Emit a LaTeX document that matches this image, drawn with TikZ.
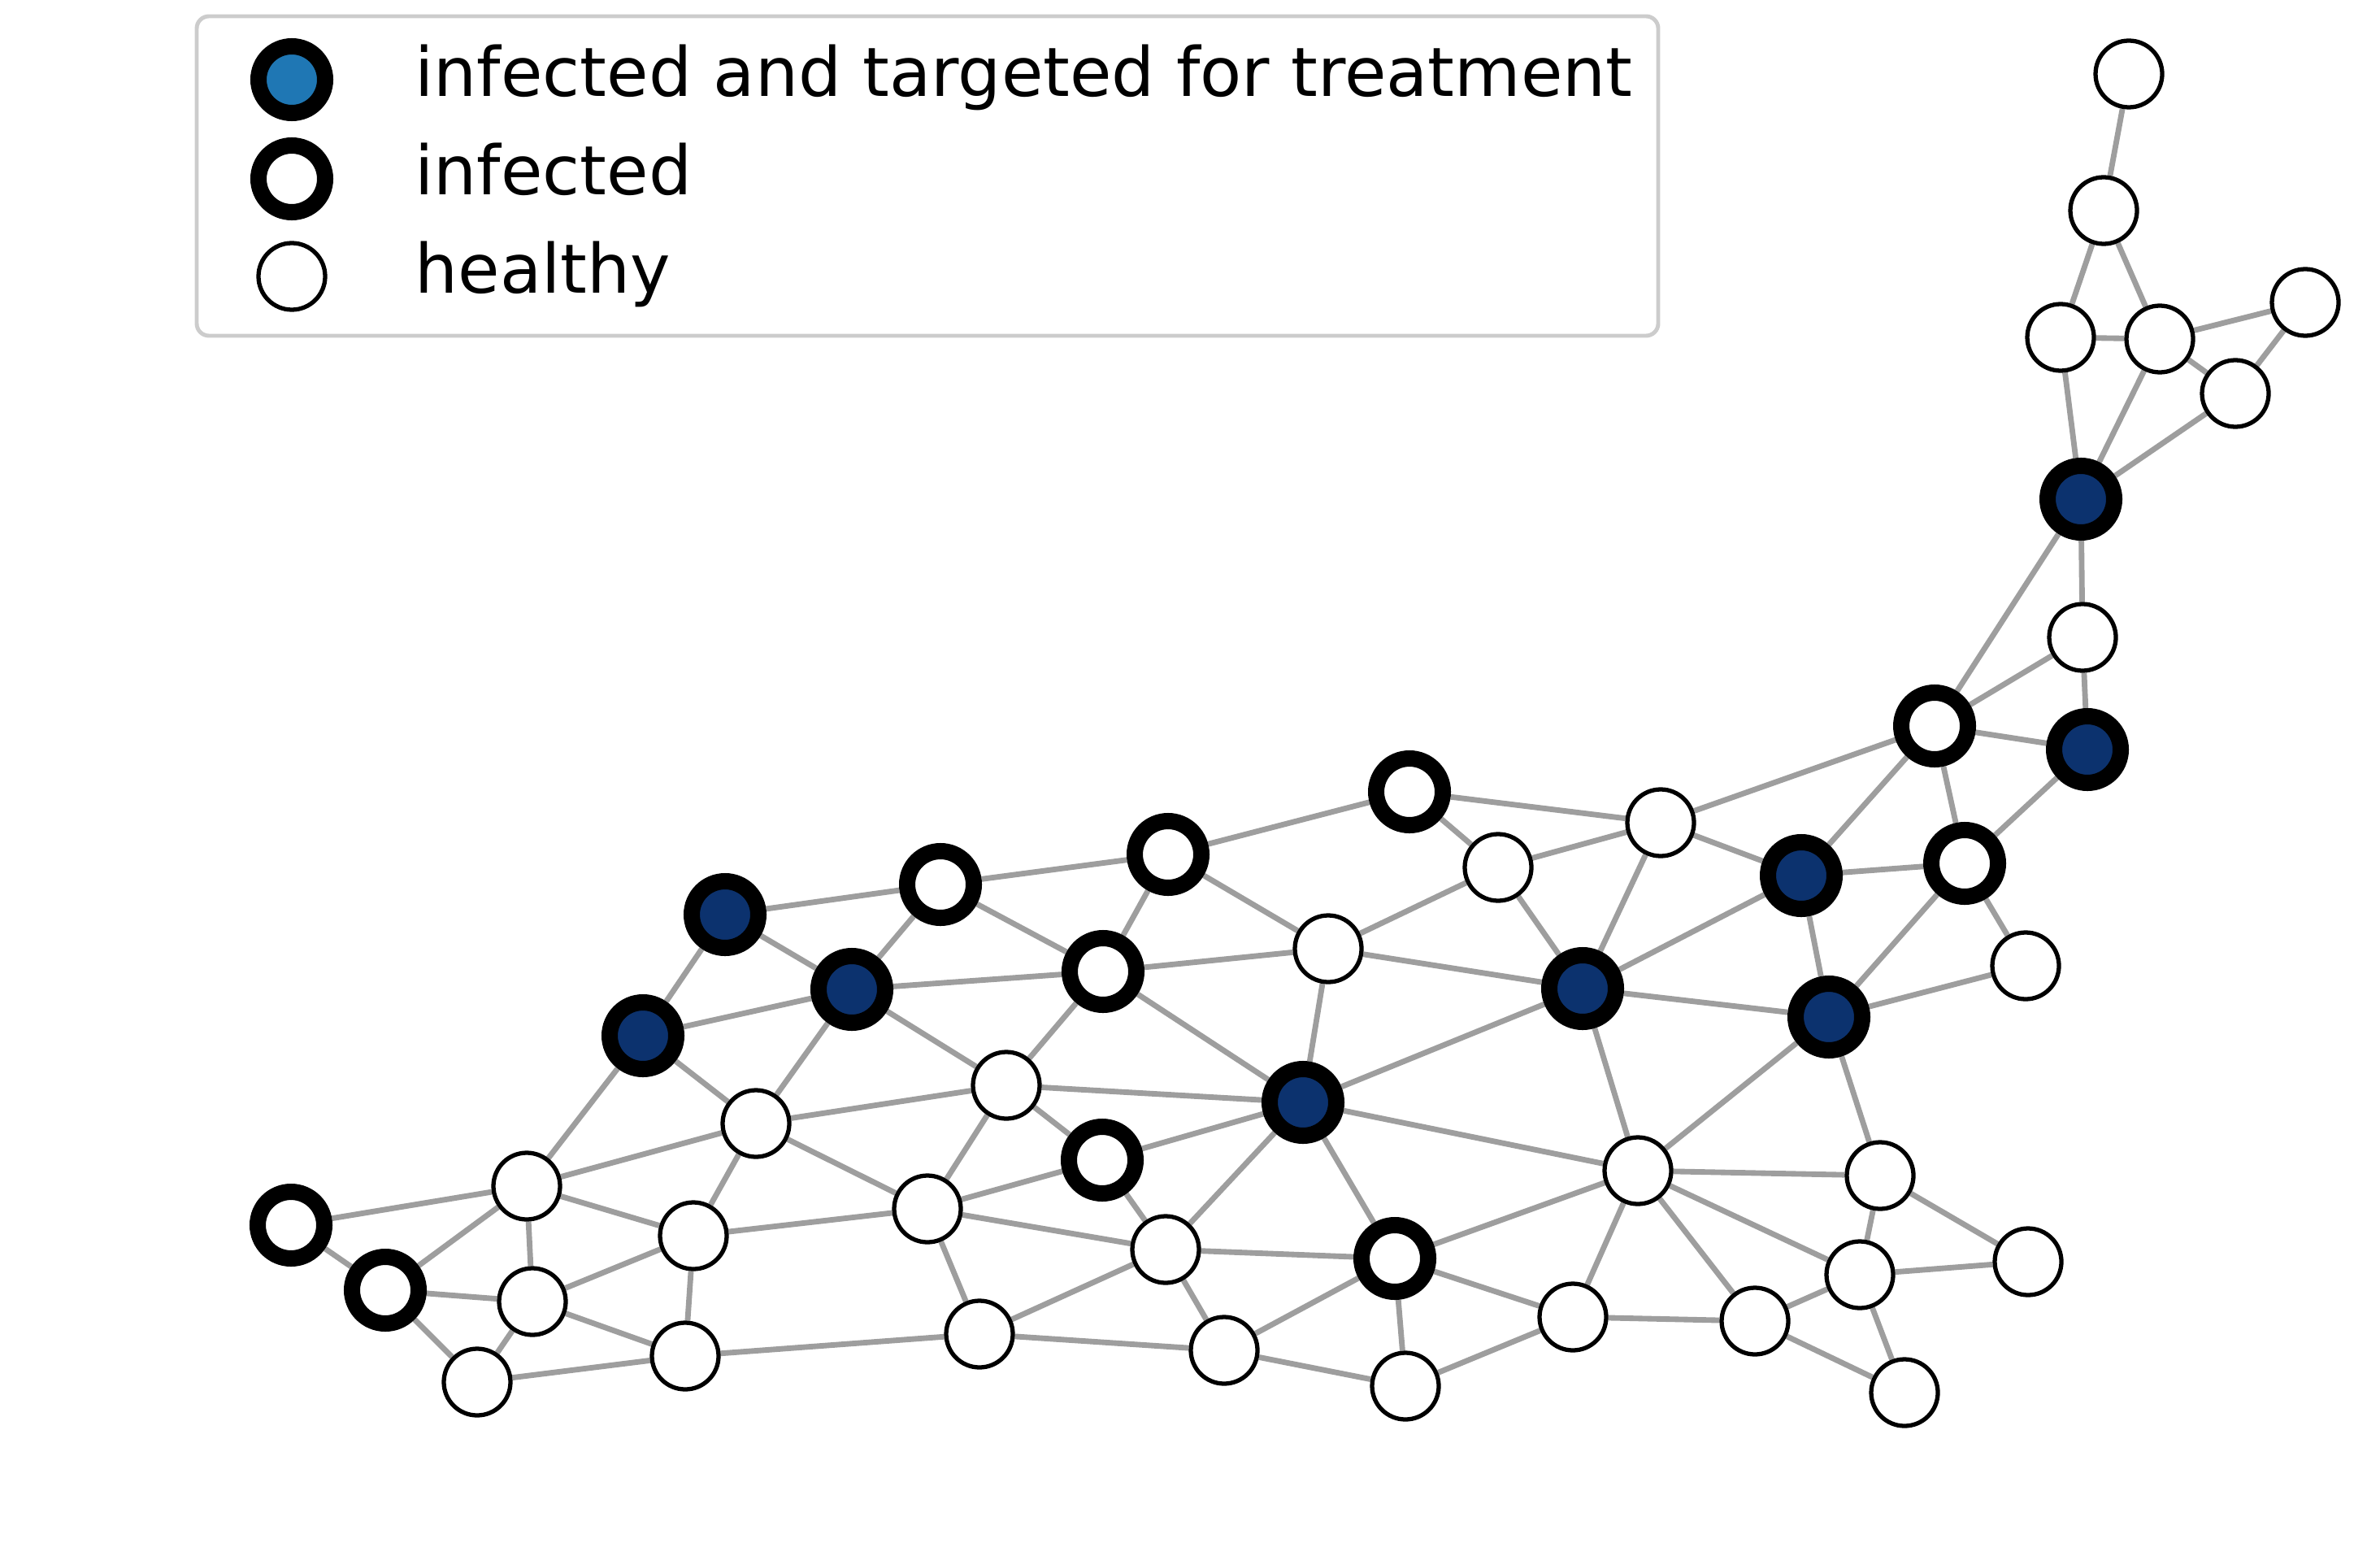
\documentclass[tikz,border=0pt]{standalone}
\usepackage{fontspec}
\setmainfont{DejaVu Sans}
\usetikzlibrary{backgrounds}
\definecolor{edgegray}{RGB}{158,158,158}
\definecolor{treatblue}{RGB}{12,50,110}
\definecolor{legblue}{RGB}{31,119,180}
\definecolor{framegray}{RGB}{204,204,204}
\begin{document}
\begin{tikzpicture}[
  nd/.style={circle, inner sep=0pt, minimum size=0.82cm, draw=black},
  healthy/.style={nd, fill=white, line width=1.5pt},
  infected/.style={nd, fill=white, line width=5.7pt},
  treated/.style={nd, fill=treatblue, line width=5.7pt},
  legtreated/.style={nd, fill=legblue, line width=5.7pt},
  link/.style={draw=edgegray, line width=1.95pt},
  legtext/.style={anchor=base west, inner sep=0pt, font=\fontsize{23.8}{28}\selectfont}
]
\useasboundingbox (0,0) rectangle (29.28,-18.97);

% legend
\draw[framegray, line width=1.4pt, fill=white, rounded corners=0.15cm] (2.42,-0.20) rectangle (20.40,-4.13);
\node[legtreated] (lm1) at (3.59,-0.98) {};
\node[infected] (lm2) at (3.59,-2.20) {};
\node[healthy] (lm3) at (3.59,-3.40) {};
\node[legtext] (lt1) at (5.10,-1.19) {infected and targeted for treatment};
\node[legtext] (lt2) at (5.10,-2.40) {infected};
\node[legtext] (lt3) at (5.10,-3.60) {healthy};

% nodes
\node[healthy]  (n1)  at (26.19,-0.91) {};
\node[healthy]  (n2)  at (25.88,-2.59) {};
\node[healthy]  (n3)  at (25.35,-4.15) {};
\node[healthy]  (n4)  at (26.57,-4.17) {};
\node[healthy]  (n5)  at (28.36,-3.72) {};
\node[healthy]  (n6)  at (27.50,-4.84) {};
\node[treated]  (n7)  at (25.60,-6.14) {};
\node[healthy]  (n8)  at (25.62,-7.84) {};
\node[infected] (n9)  at (23.80,-8.93) {};
\node[treated]  (n10) at (25.68,-9.22) {};
\node[infected] (n11) at (24.17,-10.62) {};
\node[treated]  (n12) at (22.16,-10.77) {};
\node[healthy]  (n13) at (24.92,-11.88) {};
\node[treated]  (n14) at (22.50,-12.51) {};
\node[healthy]  (n15) at (20.43,-10.12) {};
\node[healthy]  (n16) at (18.43,-10.67) {};
\node[infected] (n17) at (17.34,-9.74) {};
\node[treated]  (n18) at (19.47,-12.16) {};
\node[healthy]  (n19) at (16.34,-11.67) {};
\node[treated]  (n20) at (16.03,-13.56) {};
\node[infected] (n21) at (14.37,-10.51) {};
\node[infected] (n22) at (13.57,-11.95) {};
\node[infected] (n23) at (11.57,-10.88) {};
\node[treated]  (n24) at (10.48,-12.17) {};
\node[treated]  (n25) at (8.92,-11.25) {};
\node[treated]  (n26) at (7.91,-12.74) {};
\node[healthy]  (n27) at (12.38,-13.35) {};
\node[healthy]  (n28) at (9.30,-13.82) {};
\node[infected] (n29) at (13.56,-14.27) {};
\node[healthy]  (n30) at (6.48,-14.59) {};
\node[infected] (n31) at (3.58,-15.07) {};
\node[infected] (n32) at (4.74,-15.87) {};
\node[healthy]  (n33) at (6.55,-16.01) {};
\node[healthy]  (n34) at (8.53,-15.20) {};
\node[healthy]  (n35) at (11.41,-14.87) {};
\node[healthy]  (n36) at (14.34,-15.37) {};
\node[infected] (n37) at (17.16,-15.48) {};
\node[healthy]  (n38) at (5.87,-17.00) {};
\node[healthy]  (n39) at (8.43,-16.68) {};
\node[healthy]  (n40) at (12.05,-16.41) {};
\node[healthy]  (n41) at (15.06,-16.61) {};
\node[healthy]  (n42) at (17.29,-17.05) {};
\node[healthy]  (n43) at (19.35,-16.20) {};
\node[healthy]  (n44) at (20.15,-14.40) {};
\node[healthy]  (n45) at (21.59,-16.25) {};
\node[healthy]  (n46) at (23.13,-14.46) {};
\node[healthy]  (n47) at (22.88,-15.68) {};
\node[healthy]  (n48) at (24.95,-15.52) {};
\node[healthy]  (n49) at (23.43,-17.13) {};

% edges
\begin{scope}[on background layer]
\foreach \a/\b in {1/2, 2/3, 2/4, 3/4, 4/5, 4/6, 5/6, 3/7, 4/7, 6/7,
  7/8, 7/9, 8/9, 8/10, 9/10, 9/15, 9/12, 9/11, 10/11,
  11/12, 11/13, 11/14, 12/14, 12/18, 12/15, 13/14, 14/18, 14/44, 14/46,
  15/17, 15/16, 15/18, 16/17, 17/21, 16/19, 16/18, 18/19, 18/20, 18/44,
  19/20, 19/21, 19/22, 21/23, 21/22, 22/23, 22/24, 20/22, 22/27,
  23/24, 23/25, 24/25, 25/26, 24/26, 26/30, 26/28, 24/28, 24/27,
  20/27, 27/28, 27/29, 27/35, 28/30, 28/34, 28/35, 20/29, 29/35, 29/36,
  20/36, 20/37, 20/44, 30/31, 30/32, 30/33, 30/34, 31/32, 32/33, 32/38,
  33/38, 33/34, 33/39, 38/39, 34/39, 34/35, 35/36, 35/40, 36/37, 36/40, 36/41,
  37/41, 37/42, 37/43, 37/44, 41/42, 40/41, 39/40, 42/43, 43/44, 43/45,
  44/45, 44/46, 44/47, 45/47, 45/49, 46/47, 46/48, 47/48, 47/49}
  \draw[link] (n\a) -- (n\b);
\end{scope}
\end{tikzpicture}
\end{document}
